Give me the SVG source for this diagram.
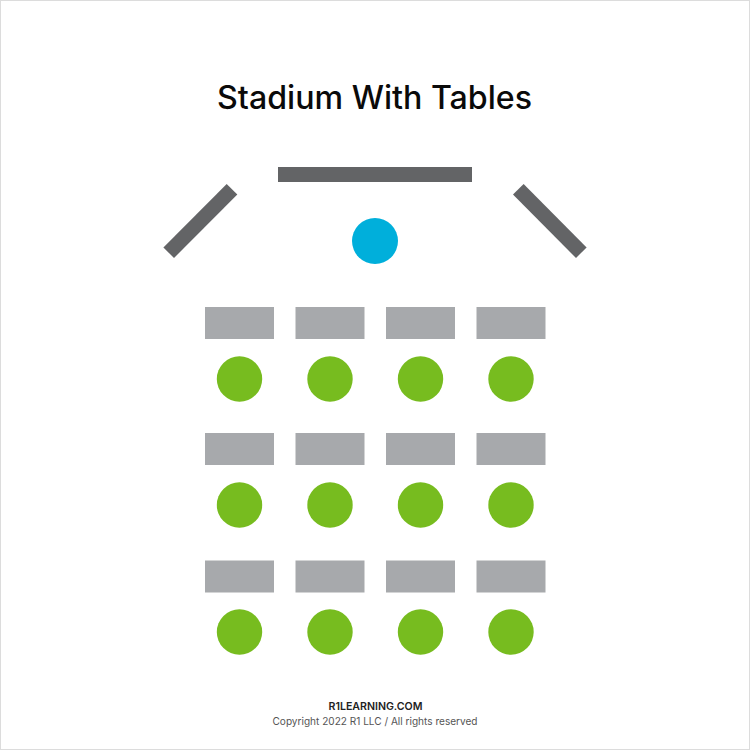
<svg xmlns="http://www.w3.org/2000/svg" width="750" height="750" viewBox="0 0 750 750">
<style>
.wall{fill:#636466}
.wallline{stroke:#636466;stroke-width:15;stroke-linecap:butt}
.table{fill:#a7a9ac}
.seat{fill:#77bc1f}
.teacher{fill:#00afdb}
.title{font-family:Inter,"Liberation Sans",sans-serif;font-size:32px;font-weight:500;fill:#0a0a0a;text-anchor:middle}
.site{font-family:Inter,"Liberation Sans",sans-serif;font-size:10.5px;font-weight:600;fill:#222;text-anchor:middle}
.copy{font-family:Inter,"Liberation Sans",sans-serif;font-size:10.5px;fill:#555;text-anchor:middle}
</style>
<rect x="0.5" y="0.5" width="749" height="749" fill="#fff" stroke="#dcdcdc"/>
<text class="title" x="374.5" y="108.5" textLength="315" lengthAdjust="spacingAndGlyphs">Stadium With Tables</text>
<g id="board">
<rect class="wall" x="278" y="167" width="194" height="15"/>
<line class="wallline" x1="232" y1="189.3" x2="168.7" y2="252.7"/>
<line class="wallline" x1="518.3" y1="189.3" x2="581.3" y2="252.7"/>
</g>
<g id="teacher"><circle class="teacher" cx="375" cy="241" r="23"/></g>
<g id="row1">
<rect class="table" x="205" y="307" width="69" height="32"/>
<rect class="table" x="295.5" y="307" width="69" height="32"/>
<rect class="table" x="386" y="307" width="69" height="32"/>
<rect class="table" x="476.5" y="307" width="69" height="32"/>
<circle class="seat" cx="239.5" cy="379" r="22.7"/>
<circle class="seat" cx="330" cy="379" r="22.7"/>
<circle class="seat" cx="420.5" cy="379" r="22.7"/>
<circle class="seat" cx="511" cy="379" r="22.7"/>
</g>
<g id="row2">
<rect class="table" x="205" y="433" width="69" height="32"/>
<rect class="table" x="295.5" y="433" width="69" height="32"/>
<rect class="table" x="386" y="433" width="69" height="32"/>
<rect class="table" x="476.5" y="433" width="69" height="32"/>
<circle class="seat" cx="239.5" cy="505" r="22.7"/>
<circle class="seat" cx="330" cy="505" r="22.7"/>
<circle class="seat" cx="420.5" cy="505" r="22.7"/>
<circle class="seat" cx="511" cy="505" r="22.7"/>
</g>
<g id="row3">
<rect class="table" x="205" y="560.5" width="69" height="32"/>
<rect class="table" x="295.5" y="560.5" width="69" height="32"/>
<rect class="table" x="386" y="560.5" width="69" height="32"/>
<rect class="table" x="476.5" y="560.5" width="69" height="32"/>
<circle class="seat" cx="239.5" cy="632" r="22.7"/>
<circle class="seat" cx="330" cy="632" r="22.7"/>
<circle class="seat" cx="420.5" cy="632" r="22.7"/>
<circle class="seat" cx="511" cy="632" r="22.7"/>
</g>
<text class="site" x="375.5" y="710" textLength="94" lengthAdjust="spacingAndGlyphs">R1LEARNING.COM</text>
<text class="copy" x="375" y="725" textLength="205" lengthAdjust="spacingAndGlyphs">Copyright 2022 R1 LLC / All rights reserved</text>
</svg>
